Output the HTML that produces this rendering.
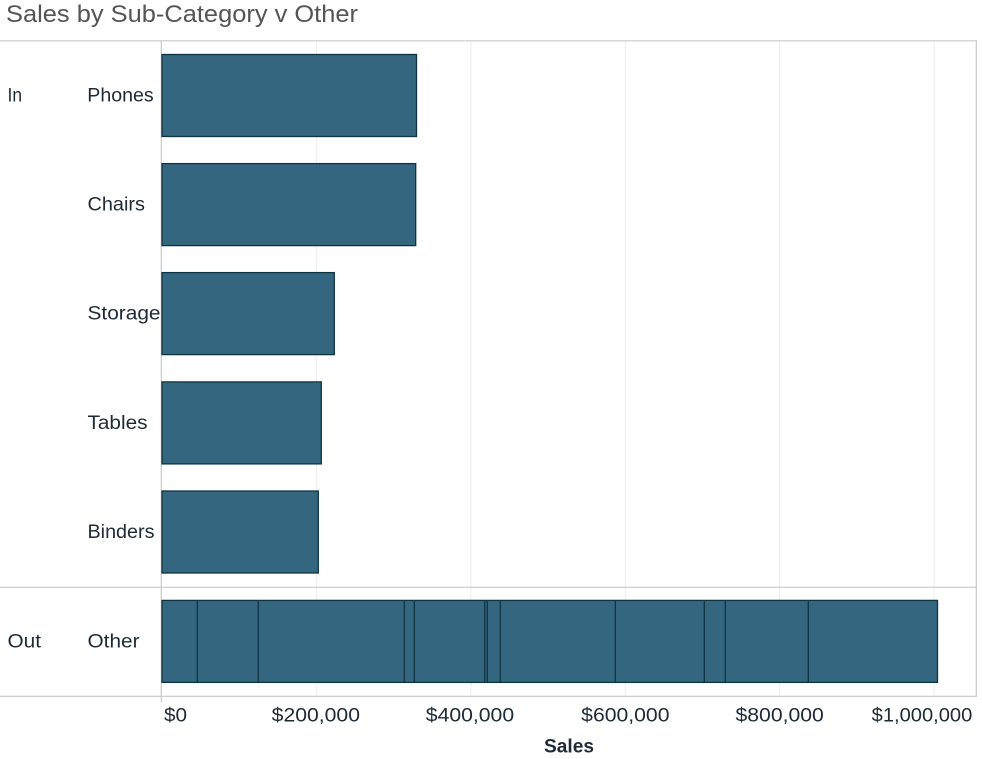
<!DOCTYPE html>
<html><head><meta charset="utf-8"><style>
html,body{margin:0;padding:0;background:#fff;}
svg{display:block;}
text{font-family:"Liberation Sans",sans-serif;}
</style></head><body>
<svg width="982" height="759" viewBox="0 0 982 759" xmlns="http://www.w3.org/2000/svg">
<text x="6" y="22" font-size="24" fill="#555" textLength="352" lengthAdjust="spacingAndGlyphs">Sales by Sub-Category v Other</text>
<g stroke="#ececec" stroke-width="1">
<line x1="316.7" y1="41" x2="316.7" y2="696"/>
<line x1="470.9" y1="41" x2="470.9" y2="696"/>
<line x1="625.3" y1="41" x2="625.3" y2="696"/>
<line x1="779.7" y1="41" x2="779.7" y2="696"/>
<line x1="934.1" y1="41" x2="934.1" y2="696"/>
</g>
<g stroke="#c8c8c8" stroke-width="1.2">
<line x1="0" y1="40.8" x2="977" y2="40.8"/>
<line x1="0" y1="587.3" x2="977" y2="587.3"/>
<line x1="0" y1="696.3" x2="977" y2="696.3"/>
<line x1="161.3" y1="41" x2="161.3" y2="702"/>
<line x1="976.3" y1="41" x2="976.3" y2="696"/>
</g>
<g fill="#35667f" stroke="#0e3442" stroke-width="1.3">
<rect x="162" y="54.5" width="254.5" height="82"/>
<rect x="162" y="163.6" width="253.7" height="82"/>
<rect x="162" y="272.6" width="172.3" height="82"/>
<rect x="162" y="381.9" width="159.3" height="82"/>
<rect x="162" y="491" width="156.3" height="82"/>
<rect x="162" y="600.4" width="775.5" height="82"/>
</g>
<g stroke="#0e3442" stroke-width="1.3">
<line x1="197.3" y1="600.4" x2="197.3" y2="682.4"/>
<line x1="258.3" y1="600.4" x2="258.3" y2="682.4"/>
<line x1="404.3" y1="600.4" x2="404.3" y2="682.4"/>
<line x1="414.3" y1="600.4" x2="414.3" y2="682.4"/>
<line x1="484.7" y1="600.4" x2="484.7" y2="682.4"/>
<line x1="487.3" y1="600.4" x2="487.3" y2="682.4"/>
<line x1="500.3" y1="600.4" x2="500.3" y2="682.4"/>
<line x1="615.3" y1="600.4" x2="615.3" y2="682.4"/>
<line x1="704.3" y1="600.4" x2="704.3" y2="682.4"/>
<line x1="725.3" y1="600.4" x2="725.3" y2="682.4"/>
<line x1="808.3" y1="600.4" x2="808.3" y2="682.4"/>
</g>
<g font-size="19" fill="#1e2a36">
<text x="7.5" y="101.5" textLength="14.5" lengthAdjust="spacingAndGlyphs">In</text>
<text x="87.3" y="101.5" textLength="66.4" lengthAdjust="spacingAndGlyphs">Phones</text>
<text x="87.5" y="210.5" textLength="57.5" lengthAdjust="spacingAndGlyphs">Chairs</text>
<text x="87.5" y="319.7" textLength="73" lengthAdjust="spacingAndGlyphs">Storage</text>
<text x="87.5" y="428.9" textLength="60" lengthAdjust="spacingAndGlyphs">Tables</text>
<text x="87.5" y="538.1" textLength="67" lengthAdjust="spacingAndGlyphs">Binders</text>
<text x="7.5" y="647.3" textLength="33.5" lengthAdjust="spacingAndGlyphs">Out</text>
<text x="87.5" y="647.3" textLength="52" lengthAdjust="spacingAndGlyphs">Other</text>
</g>
<g font-size="19" fill="#1e2a36">
<text x="164" y="721.5" textLength="23" lengthAdjust="spacingAndGlyphs">$0</text>
<text x="271.7" y="721.5" textLength="88.3" lengthAdjust="spacingAndGlyphs">$200,000</text>
<text x="425.8" y="721.5" textLength="88.3" lengthAdjust="spacingAndGlyphs">$400,000</text>
<text x="581.2" y="721.5" textLength="88.3" lengthAdjust="spacingAndGlyphs">$600,000</text>
<text x="735.5" y="721.5" textLength="88.3" lengthAdjust="spacingAndGlyphs">$800,000</text>
<text x="871.7" y="721.5" textLength="100.6" lengthAdjust="spacingAndGlyphs">$1,000,000</text>
</g>
<text x="544" y="752.3" font-size="19.5" font-weight="bold" fill="#1e2a36" textLength="50" lengthAdjust="spacingAndGlyphs">Sales</text>
</svg>
</body></html>
